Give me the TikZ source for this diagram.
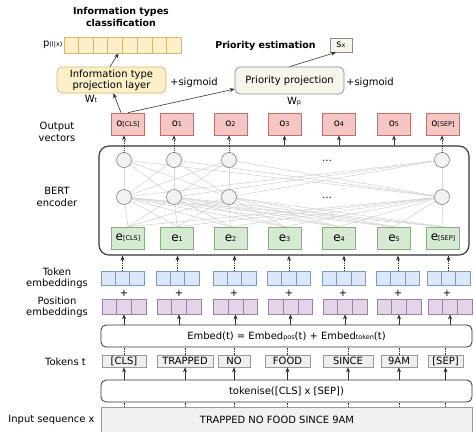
\documentclass[tikz,border=0pt]{standalone}
\usepackage{fontspec}
\setmainfont{DejaVu Sans}
\usetikzlibrary{arrows.meta,calc}
\definecolor{yfill}{HTML}{FDF0C8}
\definecolor{ydraw}{HTML}{D6B66A}
\definecolor{pfill}{HTML}{F7F5EC}
\definecolor{pdraw}{HTML}{8C8C8C}
\definecolor{ofill}{HTML}{F5C6C4}
\definecolor{odraw}{HTML}{C06F6C}
\definecolor{efill}{HTML}{D6E9D3}
\definecolor{edraw}{HTML}{86B07A}
\definecolor{bfill}{HTML}{DBE8FB}
\definecolor{bdraw}{HTML}{7B9AC9}
\definecolor{ufill}{HTML}{E3D5E8}
\definecolor{udraw}{HTML}{9D7FA9}
\definecolor{tfill}{HTML}{EEEEEE}
\definecolor{tdraw}{HTML}{999999}
\definecolor{ifill}{HTML}{F1F1F1}
\definecolor{conn}{HTML}{D6D6D6}
\definecolor{dark}{HTML}{333333}
\newcommand{\sbs}[1]{{\fontsize{6.5}{7}\selectfont #1}}
\begin{document}
\begin{tikzpicture}[x=1bp,y=-1bp,
  font=\fontsize{10}{12}\selectfont,
  arr/.style={-{Stealth[length=5bp,width=4bp]}, dark, line width=0.6bp},
  dotarr/.style={-{Stealth[length=5bp,width=4bp]}, dark, densely dotted, line width=0.7bp},
  tick/.style={dark, densely dotted, line width=0.6bp},
  obox/.style={draw=odraw, fill=ofill, minimum width=33bp, minimum height=22bp, inner sep=0pt, line width=0.7bp},
  ebox/.style={draw=edraw, fill=efill, minimum width=33bp, minimum height=22bp, inner sep=0pt, line width=0.7bp},
  neur/.style={circle, draw=gray, fill=gray!10, minimum size=15bp, inner sep=0pt, line width=0.6bp},
  bemb/.style={draw=bdraw, fill=bfill, minimum width=43bp, minimum height=14bp, inner sep=0pt, line width=0.7bp},
  uemb/.style={draw=udraw, fill=ufill, minimum width=44bp, minimum height=15bp, inner sep=0pt, line width=0.7bp},
  tok/.style={draw=tdraw, fill=tfill, minimum height=12bp, inner sep=0pt, line width=0.6bp},
  wide/.style={draw=dark, fill=white, rounded corners=5bp, line width=0.8bp, minimum width=371bp, minimum height=22bp, inner sep=0pt},
  lab/.style={align=center, font=\fontsize{10}{11.5}\selectfont},
  ttl/.style={align=center, font=\bfseries\fontsize{9.5}{12}\selectfont},
  wire/.style={conn, line width=0.6bp}
]
\useasboundingbox (0,0) rectangle (474,431);
\clip (0,0) rectangle (474,431);

% ---------- top part ----------
\node[ttl] (t1) at (121,17) {Information types\\classification};
\node[ttl] (t2) at (265.5,46) {Priority estimation};
\node[draw=ydraw, fill=yfill, minimum width=117bp, minimum height=16bp, inner sep=0pt, line width=0.7bp] (bar) at (122.5,45) {};
\foreach \i in {1,...,7} {
  \draw[ydraw, line width=0.7bp] ($(bar.north west)!\i/8!(bar.north east)$) -- ($(bar.south west)!\i/8!(bar.south east)$);
}
\node[anchor=east, inner sep=1bp] (pl) at (bar.west) {p\sbs{(I|x)}};
\node[draw=pdraw, fill=pfill, minimum width=22bp, minimum height=14bp, inner sep=0pt, line width=0.7bp] (sx) at (341,45) {s\sbs{x}};

\node[draw=ydraw, fill=yfill, rounded corners=5bp, minimum width=109bp, minimum height=26bp, inner sep=0pt, align=center, line width=0.7bp, font=\fontsize{10}{11.5}\selectfont] (info) at (111.5,80) {Information type\\projection layer};
\node[anchor=west, inner sep=0pt] (sg1) at (170,83) {+sigmoid};
\node (wt) at (91,99) {W\sbs{t}};

\node[draw=pdraw, fill=pfill, rounded corners=5bp, minimum width=109bp, minimum height=27bp, inner sep=0pt, line width=0.7bp] (prio) at (289.5,80.5) {Priority projection};
\node[anchor=west, inner sep=0pt] (sg2) at (346,83) {+sigmoid};
\node (wp) at (294,102) {W\sbs{p}};

% ---------- labels ----------
\node[lab] (l1) at (57,132) {Output\\vectors};
\node[lab] (l2) at (57,197) {BERT\\encoder};
\node[lab] (l3) at (57,278.5) {Token\\embeddings};
\node[lab] (l4) at (57,307.5) {Position\\embeddings};
\node[lab] (l5) at (65.5,362) {Tokens t};
\node[lab] (l6) at (51.5,420) {Input sequence x};

% ---------- BERT ----------
\node[draw=dark, fill=white, rounded corners=10bp, minimum width=370bp, minimum height=109bp, line width=1.1bp, inner sep=0pt] (bert) at (284,200.5) {};

\node[obox] (o0) at (128,124) {o\sbs{[CLS]}};
\node[obox] (o1) at (177,124) {o\sbs{1}};
\node[obox] (o2) at (230.5,124) {o\sbs{2}};
\node[obox] (o3) at (284.5,124) {o\sbs{3}};
\node[obox] (o4) at (339,124) {o\sbs{4}};
\node[obox] (o5) at (394,124) {o\sbs{5}};
\node[obox] (o6) at (443,124) {o\sbs{[SEP]}};

\node[ebox] (e0) at (128,238) {{\fontsize{12}{12}\selectfont e}\sbs{[CLS]}};
\node[ebox] (e1) at (177,238) {{\fontsize{12}{12}\selectfont e}\sbs{1}};
\node[ebox] (e2) at (230.5,238) {{\fontsize{12}{12}\selectfont e}\sbs{2}};
\node[ebox] (e3) at (284.5,238) {{\fontsize{12}{12}\selectfont e}\sbs{3}};
\node[ebox] (e4) at (339,238) {{\fontsize{12}{12}\selectfont e}\sbs{4}};
\node[ebox] (e5) at (394,238) {{\fontsize{12}{12}\selectfont e}\sbs{5}};
\node[ebox] (e6) at (443,238) {{\fontsize{12}{12}\selectfont e}\sbs{[SEP]}};

\coordinate (ca0) at (124,160);
\coordinate (ca1) at (174,160);
\coordinate (ca2) at (229,160);
\coordinate (ca6) at (442,160);
\coordinate (cb0) at (124,197);
\coordinate (cb1) at (174,197);
\coordinate (cb2) at (229,197);
\coordinate (cb6) at (442,197);

\foreach \a in {0,1,2,6} {
  \foreach \b in {0,1,2,6} {
    \draw[wire] (ca\a) -- (cb\b);
  }
  \foreach \b in {0,...,6} {
    \draw[wire] (cb\a) -- (e\b.north);
  }
}
\foreach \a in {0,1,2,6} {
  \node[neur] (na\a) at (ca\a) {};
  \node[neur] (nb\a) at (cb\a) {};
  \draw[dotarr] (na\a.north) -- (na\a.north |- o\a.south);
}
\foreach \a in {3,4,5} {
  \draw[arr] (o\a.south |- bert.north) -- (o\a.south);
}
\node (dots1) at (327,161) {\ldots};
\node (dots2) at (327,198) {\ldots};

% ---------- embeddings ----------
\foreach \i/\bx/\ux/\px in {0/122.5/124/124, 1/177.5/179/179, 2/234.5/235.5/234, 3/289/290.5/289, 4/344/345/343, 5/398/399/398, 6/448.5/450/447} {
  \node[bemb] (b\i) at (\bx,278) {};
  \node[uemb] (u\i) at (\ux,306.5) {};
  \node (plus\i) at (\px,293) {+};
  \foreach \k in {1,2} {
    \draw[bdraw, line width=0.7bp] ($(b\i.north west)!\k/3!(b\i.north east)$) -- ($(b\i.south west)!\k/3!(b\i.south east)$);
    \draw[udraw, line width=0.7bp] ($(u\i.north west)!\k/3!(u\i.north east)$) -- ($(u\i.south west)!\k/3!(u\i.south east)$);
  }
  \draw[dotarr] (b\i.north) -- (b\i.north |- bert.south);
}

\node[wide] (embed) at (286.5,336) {Embed(t) = Embed\sbs{pos}(t) + Embed\sbs{token}(t)};
\foreach \i in {0,...,6} {
  \draw[arr] (u\i.south |- embed.north) -- (u\i.south);
}

% ---------- tokens ----------
\node[tok, minimum width=44bp] (k0) at (124,361) {[CLS]};
\node[tok, minimum width=56bp] (k1) at (185,361) {TRAPPED};
\node[tok, minimum width=32bp] (k2) at (234,361) {NO};
\node[tok, minimum width=45bp] (k3) at (287.5,361) {FOOD};
\node[tok, minimum width=50bp] (k4) at (348,361) {SINCE};
\node[tok, minimum width=36bp] (k5) at (399,361) {9AM};
\node[tok, minimum width=35bp] (k6) at (445.5,361) {[SEP]};

\node[wide] (tokb) at (286.5,391) {tokenise([CLS] x [SEP])};
\node[draw=tdraw, fill=ifill, minimum width=371bp, minimum height=34bp, inner sep=0pt, line width=0.7bp, text depth=0pt] (inp) at (286.5,424) {};
\node (inptext) at (277,420) {TRAPPED NO FOOD SINCE 9AM};

\foreach \i in {0,...,6} {
  \draw[tick] (k\i.north) -- (k\i.north |- embed.south);
  \draw[arr] (k\i.south |- tokb.north) -- (k\i.south);
  \draw[tick] (k\i.south |- inp.north) -- (k\i.south |- tokb.south);
}

% ---------- heads ----------
\draw[arr] ([xshift=-7bp]o0.north) -- ([xshift=2bp]info.south);
\draw[arr] (o0.north) -- ([yshift=-8.5bp]prio.west);
\draw[arr] ([xshift=-1.5bp]info.north) -- ([xshift=-4bp]bar.south);
\draw[arr] (prio.north) -- ([xshift=-5bp]sx.south);
\end{tikzpicture}
\end{document}
